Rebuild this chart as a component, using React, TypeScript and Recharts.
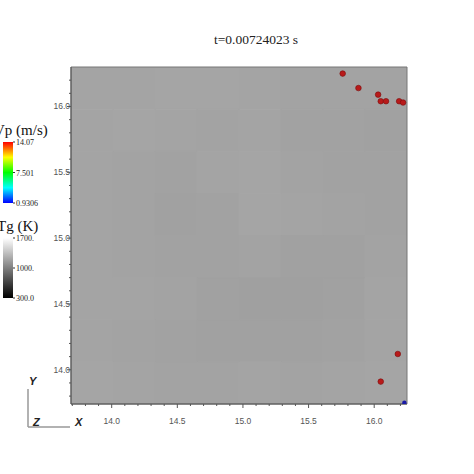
import { ScatterChart, Scatter, XAxis, YAxis, ReferenceArea } from "recharts"

const title = "t=0.00724023 s"

const xDomain = [13.69, 16.25]
const yDomain = [13.74, 16.3]
const xTicks = [13.7, 13.8, 13.9, 14.0, 14.1, 14.2, 14.3, 14.4, 14.5, 14.6, 14.7, 14.8, 14.9, 15.0, 15.1, 15.2, 15.3, 15.4, 15.5, 15.6, 15.7, 15.8, 15.9, 16.0, 16.1, 16.2]
const yTicks = [13.8, 13.9, 14.0, 14.1, 14.2, 14.3, 14.4, 14.5, 14.6, 14.7, 14.8, 14.9, 15.0, 15.1, 15.2, 15.3, 15.4, 15.5, 15.6, 15.7, 15.8, 15.9, 16.0, 16.1, 16.2]
const majorTicks = [14.0, 14.5, 15.0, 15.5, 16.0]

// gas temperature field, coarse cells (rows top to bottom)
const cellX = [13.69, 14.01, 14.33, 14.65, 14.97, 15.29, 15.61, 15.93, 16.25]
const cellY = [16.3, 15.98, 15.66, 15.34, 15.02, 14.7, 14.38, 14.06, 13.74]
const tgField = [
  [1200, 1200, 1205, 1205, 1200, 1195, 1195, 1195],
  [1200, 1205, 1200, 1195, 1200, 1190, 1190, 1185],
  [1200, 1195, 1188, 1200, 1206, 1195, 1190, 1188],
  [1200, 1195, 1182, 1188, 1208, 1200, 1195, 1190],
  [1200, 1195, 1190, 1190, 1195, 1186, 1182, 1195],
  [1200, 1200, 1195, 1182, 1180, 1178, 1186, 1200],
  [1200, 1196, 1190, 1186, 1186, 1182, 1190, 1200],
  [1205, 1200, 1196, 1196, 1200, 1196, 1200, 1205],
]

// particles (velocity-coloured)
const fastParticles = [
  { x: 15.76, y: 16.25 },
  { x: 15.88, y: 16.14 },
  { x: 16.03, y: 16.09 },
  { x: 16.05, y: 16.04 },
  { x: 16.09, y: 16.04 },
  { x: 16.19, y: 16.04 },
  { x: 16.22, y: 16.03 },
  { x: 16.18, y: 14.12 },
  { x: 16.05, y: 13.91 },
]
const slowParticles = [{ x: 16.23, y: 13.75 }]

const vpLabels = ["14.07", "7.501", "0.9306"]
const tgLabels = ["1700.", "1000.", "300.0"]

const tgGrey = (t: number) => {
  const g = Math.round(((t - 300) / 1400) * 255)
  return `rgb(${g},${g},${g})`
}

const tickFont = "'Liberation Sans', Arial, sans-serif"
const serif = "'Liberation Serif', 'Times New Roman', serif"

const isMajor = (v: number) => majorTicks.some((m) => Math.abs(m - v) < 1e-6)

const XTick = (props: any) => {
  const { x, y, payload } = props
  const major = isMajor(payload.value)
  return (
    <g>
      <line x1={x} y1={y} x2={x} y2={y + (major ? 4 : 2)} stroke="#555" strokeWidth={1} />
      {major && (
        <text x={x} y={y + 20} textAnchor="middle" fontSize={8.5} fill="#555" fontFamily={tickFont}>
          {payload.value.toFixed(1)}
        </text>
      )}
    </g>
  )
}

const YTick = (props: any) => {
  const { x, y, payload } = props
  const major = isMajor(payload.value)
  return (
    <g>
      <line x1={x} y1={y} x2={x - (major ? 4 : 2)} y2={y} stroke="#555" strokeWidth={1} />
      {major && (
        <text x={x - 1} y={y + 3} textAnchor="end" fontSize={8.5} fill="#555" fontFamily={tickFont}>
          {payload.value.toFixed(1)}
        </text>
      )}
    </g>
  )
}

const Particle = (props: any) => {
  const { cx, cy, fill } = props
  return <circle cx={cx} cy={cy} r={2.8} fill={fill} stroke="#7a0c0c" strokeWidth={0.6} />
}

const SlowParticle = (props: any) => {
  const { cx, cy } = props
  return <circle cx={cx} cy={cy} r={2.2} fill="#1a1aa8" />
}

function Legends() {
  return (
    <svg width={474} height={474} style={{ position: "absolute", left: 0, top: 0, pointerEvents: "none" }}>
      <defs>
        <linearGradient id="vpGrad" x1="0" y1="0" x2="0" y2="1">
          <stop offset="0%" stopColor="#ff0000" />
          <stop offset="25%" stopColor="#ffff00" />
          <stop offset="50%" stopColor="#00ff00" />
          <stop offset="75%" stopColor="#00ffff" />
          <stop offset="100%" stopColor="#0000ff" />
        </linearGradient>
        <linearGradient id="tgGrad" x1="0" y1="0" x2="0" y2="1">
          <stop offset="0%" stopColor="#ffffff" />
          <stop offset="100%" stopColor="#000000" />
        </linearGradient>
      </defs>
      <text x={256} y={44} textAnchor="middle" fontSize={13.5} fontFamily={serif} fill="#222">
        {title}
      </text>

      <text x={-6} y={135} fontSize={15} fontFamily={serif} fill="#111">Vp (m/s)</text>
      <rect x={3} y={142} width={10} height={61} fill="url(#vpGrad)" />
      {vpLabels.map((l, i) => (
        <g key={l}>
          <line x1={13} x2={15} y1={142 + i * 30.5} y2={142 + i * 30.5} stroke="#333" />
          <text x={16} y={145 + i * 30.5} fontSize={8} fontFamily={serif} fill="#222">{l}</text>
        </g>
      ))}

      <text x={-3} y={231} fontSize={15} fontFamily={serif} fill="#111">Tg (K)</text>
      <rect x={3} y={238} width={10} height={60} fill="url(#tgGrad)" />
      {tgLabels.map((l, i) => (
        <g key={l}>
          <line x1={13} x2={15} y1={238 + i * 30} y2={238 + i * 30} stroke="#333" />
          <text x={16} y={241 + i * 30} fontSize={8} fontFamily={serif} fill="#222">{l}</text>
        </g>
      ))}

      <line x1={28} y1={389} x2={28} y2={427} stroke="#999" strokeWidth={1.5} />
      <line x1={28} y1={427} x2={70} y2={427} stroke="#999" strokeWidth={1.5} />
      <text x={29} y={385} fontSize={11} fontStyle="italic" fontWeight="bold" fontFamily={tickFont} fill="#222">Y</text>
      <text x={33} y={426} fontSize={11} fontStyle="italic" fontWeight="bold" fontFamily={tickFont} fill="#222">Z</text>
      <text x={75} y={426} fontSize={11} fontStyle="italic" fontWeight="bold" fontFamily={tickFont} fill="#222">X</text>
    </svg>
  )
}

export default function App() {
  return (
    <div style={{ position: "absolute", left: 0, top: 0, width: 474, height: 474, background: "#fff", overflow: "hidden" }}>
      <ScatterChart width={474} height={474} margin={{ top: 67, right: 67, bottom: 40, left: 0 }}>
        <XAxis
          type="number"
          dataKey="x"
          domain={xDomain}
          allowDataOverflow
          ticks={xTicks}
          interval={0}
          tick={<XTick />}
          tickSize={0}
          tickMargin={0}
          tickLine={false}
          height={30}
          stroke="#555"
        />
        <YAxis
          type="number"
          dataKey="y"
          domain={yDomain}
          allowDataOverflow
          ticks={yTicks}
          interval={0}
          tick={<YTick />}
          tickSize={0}
          tickMargin={0}
          tickLine={false}
          width={71}
          stroke="#555"
        />
        {tgField.map((row, r) =>
          row.map((t, c) => (
            <ReferenceArea
              key={`${r}-${c}`}
              x1={cellX[c]}
              x2={cellX[c + 1]}
              y1={cellY[r + 1]}
              y2={cellY[r]}
              fill={tgGrey(t)}
              fillOpacity={1}
              stroke={tgGrey(t)}
              strokeWidth={1}
              ifOverflow="hidden"
            />
          ))
        )}
        <ReferenceArea x1={xDomain[0]} x2={xDomain[1]} y1={yDomain[0]} y2={yDomain[1]} fill="none" stroke="#777" strokeWidth={1} />
        <Scatter data={fastParticles} fill="#b81a1a" shape={<Particle />} isAnimationActive={false} />
        <Scatter data={slowParticles} fill="#1a1aa8" shape={<SlowParticle />} isAnimationActive={false} />
      </ScatterChart>
      <Legends />
    </div>
  )
}
